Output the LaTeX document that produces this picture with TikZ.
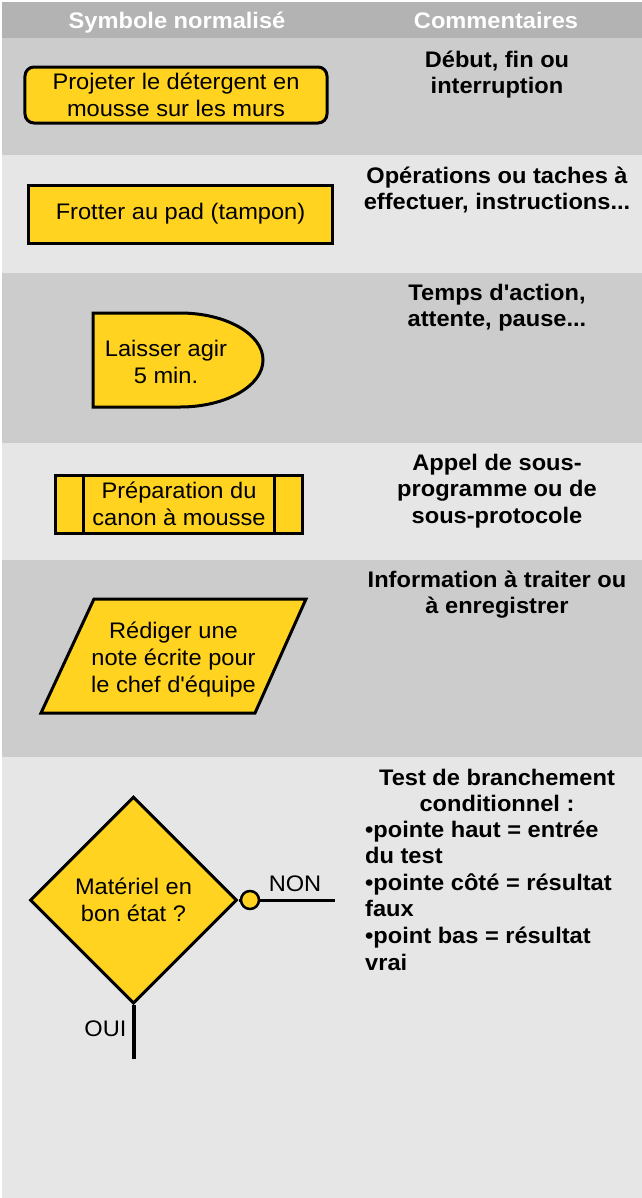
\documentclass[tikz,border=0pt]{standalone}
\usepackage{fontspec}
\setmainfont{Liberation Sans}[FakeStretch=1.05, Ligatures=TeXOff]
\usetikzlibrary{shapes.geometric}
\definecolor{hdr}{HTML}{B3B3B3}
\definecolor{bandA}{HTML}{CCCCCC}
\definecolor{bandB}{HTML}{E6E6E6}
\definecolor{gold}{HTML}{FFD320}
\begin{document}
\begin{tikzpicture}[x=1bp,y=-1bp,
  every node/.style={font=\fontsize{22.5bp}{26.6bp}\selectfont, inner sep=0pt},
  symb/.style={draw=black, fill=gold, line width=3bp},
  comment/.style={font=\fontsize{22.5bp}{26.6bp}\selectfont\bfseries, align=center, anchor=base},
  hdrtxt/.style={font=\fontsize{22.5bp}{26.6bp}\selectfont\bfseries, text=white, anchor=base},
  lbl/.style={anchor=base}
]
\useasboundingbox (0,0) rectangle (642,1198);
\fill[white] (0,0) rectangle (642,1198);
\fill[hdr] (2,2) rectangle (642,38);
\fill[bandA] (2,38) rectangle (642,155);
\fill[bandB] (2,155) rectangle (642,273);
\fill[bandA] (2,273) rectangle (642,443);
\fill[bandB] (2,443) rectangle (642,560);
\fill[bandA] (2,560) rectangle (642,757);
\fill[bandB] (2,757) rectangle (642,1198);

% header
\node[hdrtxt] (h1) at (177,28) {Symbole normalisé};
\node[hdrtxt] (h2) at (496,28) {Commentaires};

% terminal
\node[symb, rounded corners=9bp, minimum width=302bp, minimum height=56bp, align=center] (term) at (176,95) {Projeter le détergent en\\mousse sur les murs};

% operation
\node[symb, minimum width=303bp, minimum height=58bp] (op) at (180.5,214) {Frotter au pad (tampon)};

% delay
\draw[symb] (93,313) -- (180,313) arc[start angle=-90, end angle=90, x radius=83, y radius=47] -- (93,407) -- cycle;
\node[align=center] (wait) at (166,362) {Laisser agir\\5 min.};

% sub-process
\node[symb, minimum width=246bp, minimum height=58bp, align=center] (sub) at (179,504) {Préparation du\\canon à mousse};
\draw[line width=3bp] ([xshift=29bp]sub.north west) -- ([xshift=29bp]sub.south west);
\draw[line width=3bp] ([xshift=-29bp]sub.north east) -- ([xshift=-29bp]sub.south east);

% data
\draw[symb] (94,599) -- (306,599) -- (255,713) -- (41,713) -- cycle;
\node[align=center] (io) at (173.5,659.5) {Rédiger une\\note écrite pour\\le chef d'équipe};

% decision
\node[symb, diamond, minimum width=207bp, minimum height=207bp, align=center] (test) at (133.5,900) {Matériel en\\bon état ?};
\node[symb, circle, minimum size=18bp, line width=2.5bp] (circ) at (250,900) {};
\coordinate (nonend) at (335,900);
\coordinate (ouiend) at (133.5,1059);
\draw[line width=3bp] (test.east) -- (circ.west);
\draw[line width=3bp] (circ.east) -- (nonend);
\draw[line width=4bp] (test.south) -- (ouiend);
\node[lbl] (non) at (295,891) {NON};
\node[lbl] (oui) at (105.5,1036) {OUI};

% comments (base anchor = baseline of the last line)
\node[comment] (c1) at (497,93.6) {Début, fin ou\\interruption};
\node[comment] (c2) at (497,209.6) {Opérations ou taches à\\effectuer, instructions...};
\node[comment] (c3) at (497,326.6) {Temps d'action,\\attente, pause...};
\node[comment] (c4) at (497,523.2) {Appel de sous-\\programme ou de\\sous-protocole};
\node[comment] (c5) at (497,613.6) {Information à traiter ou\\à enregistrer};
\node[comment] (c6) at (497,811.6) {Test de branchement\\conditionnel :};
\node[comment, align=left, anchor=base west] (c7) at (365,970) {•pointe haut = entrée\\du test\\•pointe côté = résultat\\faux\\•point bas = résultat\\vrai};
\end{tikzpicture}
\end{document}
